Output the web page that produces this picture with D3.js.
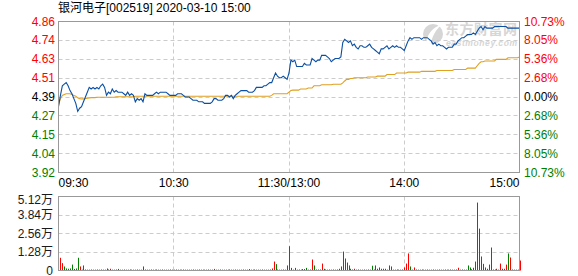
<!DOCTYPE html>
<html lang="zh-CN">
<head>
<meta charset="UTF-8">
<title>银河电子 分时图</title>
<script src="https://cdn.jsdelivr.net/npm/d3@7"></script>
<style>
  html, body { margin: 0; padding: 0; background: #fff; }
  svg { display: block; }
  text { font-family: "Liberation Sans", Arial, "Noto Sans CJK SC", sans-serif; font-size: 12px; }
</style>
<script>
var title = '银河电子[002519] 2020-03-10 15:00';
var prevClose = 4.39;

var priceLabels = ['4.86', '4.74', '4.63', '4.51', '4.39', '4.27', '4.15', '4.04', '3.92'];
var pctTicks = [10.73, 8.05, 5.36, 2.68, 0, -2.68, -5.36, -8.05, -10.73];
var pctLabels = ['10.73%', '8.05%', '5.36%', '2.68%', '0.00%', '2.68%', '5.36%', '8.05%', '10.73%'];

var timeLabels = ['09:30', '10:30', '11:30/13:00', '14:00', '15:00'];
var timeIdx = [0, 60, 120, 180, 240];

var volTicks = [51200, 38400, 25600, 12800, 0];
var volLabels = ['5.12万', '3.84万', '2.56万', '1.28万', '0'];

// one value per minute, 09:30 .. 11:30 then 13:01 .. 15:00
var price = [
  4.33, 4.40, 4.46, 4.47, 4.48, 4.46, 4.43, 4.41, 4.38, 4.35,
  4.30, 4.32, 4.33, 4.36, 4.39, 4.42, 4.45, 4.44, 4.45, 4.44,
  4.45, 4.44, 4.46, 4.47, 4.45, 4.40, 4.42, 4.41, 4.44, 4.42,
  4.43, 4.42, 4.42, 4.42, 4.41, 4.40, 4.42, 4.40, 4.41, 4.40,
  4.36, 4.38, 4.37, 4.38, 4.36, 4.41, 4.40, 4.40, 4.40, 4.40,
  4.41, 4.42, 4.41, 4.42, 4.42, 4.42, 4.42, 4.41, 4.40, 4.40,
  4.40, 4.40, 4.41, 4.41, 4.41, 4.40, 4.39, 4.39, 4.39, 4.38,
  4.37, 4.37, 4.37, 4.36, 4.36, 4.36, 4.35, 4.35, 4.35, 4.35,
  4.36, 4.38, 4.38, 4.37, 4.37, 4.37, 4.38, 4.40, 4.40, 4.39,
  4.40, 4.38, 4.40, 4.41, 4.42, 4.43, 4.43, 4.43, 4.43, 4.42,
  4.42, 4.42, 4.43, 4.45, 4.45, 4.45, 4.45, 4.46, 4.46, 4.47,
  4.48, 4.48, 4.51, 4.54, 4.52, 4.51, 4.51, 4.52, 4.51, 4.50,
  4.54, 4.62, 4.61, 4.62, 4.58, 4.58, 4.58, 4.58, 4.60, 4.59,
  4.59, 4.59, 4.63, 4.62, 4.61, 4.62, 4.62, 4.65, 4.65, 4.65,
  4.64, 4.63, 4.61, 4.62, 4.63, 4.63, 4.63, 4.64, 4.73, 4.75,
  4.74, 4.73, 4.74, 4.71, 4.72, 4.70, 4.69, 4.71, 4.71, 4.70,
  4.70, 4.71, 4.72, 4.70, 4.69, 4.68, 4.67, 4.66, 4.69, 4.69,
  4.70, 4.71, 4.69, 4.70, 4.71, 4.70, 4.71, 4.70, 4.70, 4.69,
  4.68, 4.71, 4.74, 4.76, 4.75, 4.76, 4.76, 4.76, 4.76, 4.75,
  4.76, 4.76, 4.76, 4.75, 4.74, 4.72, 4.73, 4.71, 4.72, 4.71,
  4.71, 4.70, 4.69, 4.70, 4.70, 4.70, 4.72, 4.72, 4.74, 4.75,
  4.76, 4.76, 4.77, 4.78, 4.78, 4.78, 4.79, 4.78, 4.80, 4.82,
  4.83, 4.81, 4.83, 4.82, 4.82, 4.82, 4.82, 4.83, 4.83, 4.83,
  4.83, 4.83, 4.83, 4.83, 4.82, 4.82, 4.82, 4.82, 4.82, 4.82,
  4.82
];

var avgPrice = [
  4.34, 4.38, 4.40, 4.405, 4.41, 4.41, 4.41, 4.405, 4.40, 4.395,
  4.385, 4.38, 4.378, 4.378, 4.38, 4.382, 4.384, 4.386, 4.386, 4.386,
  4.388, 4.388, 4.388, 4.388, 4.388, 4.388, 4.388, 4.388, 4.388, 4.388,
  4.392, 4.392, 4.392, 4.392, 4.392, 4.392, 4.392, 4.392, 4.392, 4.392,
  4.395, 4.395, 4.395, 4.395, 4.395, 4.395, 4.395, 4.395, 4.395, 4.395,
  4.395, 4.395, 4.395, 4.395, 4.395, 4.395, 4.395, 4.395, 4.395, 4.395,
  4.395, 4.395, 4.395, 4.395, 4.395, 4.395, 4.395, 4.395, 4.395, 4.395,
  4.395, 4.395, 4.395, 4.395, 4.395, 4.395, 4.395, 4.395, 4.395, 4.395,
  4.395, 4.395, 4.395, 4.395, 4.395, 4.395, 4.395, 4.395, 4.395, 4.395,
  4.395, 4.395, 4.395, 4.395, 4.395, 4.395, 4.395, 4.395, 4.395, 4.395,
  4.395, 4.395, 4.395, 4.395, 4.395, 4.395, 4.395, 4.395, 4.395, 4.395,
  4.395, 4.40, 4.41, 4.41, 4.41, 4.41, 4.41, 4.41, 4.41, 4.41,
  4.42, 4.43, 4.433, 4.433, 4.433, 4.433, 4.44, 4.44, 4.44, 4.44,
  4.446, 4.446, 4.446, 4.46, 4.46, 4.46, 4.46, 4.466, 4.466, 4.466,
  4.466, 4.466, 4.466, 4.47, 4.47, 4.47, 4.47, 4.47, 4.478, 4.49,
  4.50, 4.50, 4.505, 4.505, 4.51, 4.51, 4.51, 4.51, 4.51, 4.51,
  4.51, 4.515, 4.515, 4.515, 4.515, 4.515, 4.52, 4.52, 4.52, 4.52,
  4.52, 4.53, 4.53, 4.53, 4.53, 4.53, 4.54, 4.54, 4.54, 4.54,
  4.54, 4.54, 4.545, 4.545, 4.545, 4.545, 4.545, 4.545, 4.545, 4.55,
  4.55, 4.55, 4.55, 4.55, 4.55, 4.55, 4.55, 4.555, 4.555, 4.555,
  4.555, 4.555, 4.555, 4.555, 4.555, 4.555, 4.562, 4.562, 4.562, 4.562,
  4.562, 4.562, 4.562, 4.57, 4.57, 4.57, 4.57, 4.57, 4.585, 4.60,
  4.61, 4.61, 4.615, 4.615, 4.615, 4.615, 4.615, 4.615, 4.625, 4.625,
  4.625, 4.625, 4.625, 4.625, 4.635, 4.635, 4.635, 4.635, 4.635, 4.635,
  4.64
];

var volume = [
  0, 8800, 5100, 2800, 1400, 1200, 1400, 4100, 1100, 1400,
  8800, 2800, 600, 3500, 700, 600, 600, 700, 600, 600,
  700, 600, 700, 600, 600, 1400, 700, 1200, 600, 600,
  700, 1100, 600, 600, 700, 600, 600, 700, 600, 600,
  600, 700, 600, 600, 2800, 700, 600, 600, 700, 600,
  600, 700, 600, 600, 700, 600, 600, 600, 700, 600,
  600, 700, 600, 600, 600, 700, 600, 600, 600, 600,
  700, 600, 600, 700, 600, 600, 600, 600, 700, 600,
  600, 1100, 600, 600, 700, 600, 600, 600, 600, 700,
  600, 600, 700, 600, 600, 600, 700, 600, 600, 1000,
  600, 600, 700, 600, 600, 600, 700, 600, 600, 600,
  700, 1400, 6200, 4400, 700, 600, 600, 700, 600, 3500,
  16800, 1800, 600, 1800, 600, 700, 600, 1000, 1000, 1800,
  600, 700, 7600, 3500, 700, 700, 700, 4800, 1200, 700,
  600, 700, 600, 700, 600, 700, 1200, 2800, 13100, 8300,
  5500, 3500, 1200, 700, 1200, 600, 700, 600, 600, 700,
  600, 700, 600, 3300, 700, 3500, 1200, 2100, 1200, 1200,
  1200, 600, 3500, 2800, 600, 600, 700, 600, 600, 700,
  2100, 4800, 11800, 2800, 600, 2100, 700, 600, 600, 700,
  600, 600, 700, 600, 600, 700, 600, 600, 700, 600,
  600, 700, 600, 600, 700, 600, 600, 700, 1900, 600,
  700, 600, 600, 3500, 2100, 900, 1900, 6200, 47000, 29000,
  9700, 4600, 2100, 1200, 4100, 15900, 700, 700, 1200, 600,
  4800, 1200, 1200, 4100, 11800, 9000, 700, 600, 600, 600,
  6900
];

// r = up minute (red), g = down minute (green)
var volDir =
  'rrrggggggg' + 'grrrgrrgrg' + 'rgrrgggrgg' + 'rggrgrrggr' + 'ggrgrrgrrg' +
  'rrgrgrggrg' + 'rrgrgggrrg' + 'ggrggrgrrr' + 'rrrgrrrgrg' + 'grrrrgrrgg' +
  'grrrrrrgrr' + 'rrrgrgrggr' + 'rgrgrrgrgg' + 'rgrgrrrrgg' + 'rggrgrrrrg' +
  'rrggrrggrg' + 'rgrgggrrrr' + 'rgrrgrgrgg' + 'rrrgrrrgrr' + 'rgrrgrgrgr' +
  'grggrrrrrr' + 'rrrggrrrrg' + 'grgrrrrrrr' + 'rrrrgrgrrg' + 'r';

window.addEventListener('load', function () {
  var W = 578, H = 276;
  var left = 58.5, right = 519.5;
  var top = 21.5, bottom = 172.5;
  var vTop = 196.5, vBottom = 270.5;

  var red = '#ff0000', green = '#008000';
  var gridColor = '#cccccc', borderColor = '#999999';

  var svg = d3.select('body').append('svg')
    .attr('width', W)
    .attr('height', H);

  var x = d3.scaleLinear().domain([0, 240]).range([left, right]);
  var yPct = d3.scaleLinear().domain([-10.73, 10.73]).range([bottom, top]);
  var y = d3.scaleLinear()
    .domain([prevClose * (1 - 0.1073), prevClose * (1 + 0.1073)])
    .range([bottom, top]);
  var yVol = d3.scaleLinear().domain([0, 51200]).range([vBottom, vTop]);

  var crisp = function (v) { return Math.round(v - 0.5) + 0.5; };

  // title
  svg.append('text')
    .attr('x', 58)
    .attr('y', 12)
    .attr('fill', '#000')
    .text(title);

  // watermark
  var wm = svg.append('g').attr('fill', '#d6d6d6');
  wm.append('circle').attr('cx', 433).attr('cy', 34).attr('r', 10);
  wm.append('path')
    .attr('d', 'M426,42 C428,33 433,27 441,25 C436,30 432,36 431,44 Z')
    .attr('fill', '#fff');
  wm.append('text')
    .attr('x', 445).attr('y', 34)
    .style('font-size', '14px')
    .style('font-weight', 'bold')
    .style('font-family', '"Noto Sans CJK SC", sans-serif')
    .attr('textLength', 72)
    .text('东方财富网');
  wm.append('text')
    .attr('x', 446).attr('y', 46)
    .style('font-size', '8.5px')
    .style('font-weight', 'bold')
    .style('font-style', 'italic')
    .attr('textLength', 71)
    .text('eastmoney.com');

  // grid: main chart
  var grid = svg.append('g')
    .attr('stroke', gridColor)
    .attr('stroke-dasharray', '4,3')
    .attr('fill', 'none');

  grid.selectAll('line.h')
    .data(pctTicks.slice(1, -1))
    .enter().append('line')
    .attr('class', 'h')
    .attr('x1', left).attr('x2', right)
    .attr('y1', function (d) { return crisp(yPct(d)); })
    .attr('y2', function (d) { return crisp(yPct(d)); });

  grid.selectAll('line.v')
    .data(timeIdx.slice(1, -1))
    .enter().append('line')
    .attr('class', 'v')
    .attr('y1', top).attr('y2', bottom)
    .attr('x1', function (d) { return crisp(x(d)); })
    .attr('x2', function (d) { return crisp(x(d)); });

  // grid: volume chart
  grid.selectAll('line.vh')
    .data(volTicks.slice(1, -1))
    .enter().append('line')
    .attr('class', 'vh')
    .attr('x1', left).attr('x2', right)
    .attr('y1', function (d) { return crisp(yVol(d)); })
    .attr('y2', function (d) { return crisp(yVol(d)); });

  grid.selectAll('line.vv')
    .data(timeIdx.slice(1, -1))
    .enter().append('line')
    .attr('class', 'vv')
    .attr('y1', vTop).attr('y2', vBottom)
    .attr('x1', function (d) { return crisp(x(d)); })
    .attr('x2', function (d) { return crisp(x(d)); });

  // volume bars
  svg.append('g').selectAll('rect')
    .data(volume)
    .enter().append('rect')
    .attr('x', function (d, i) { return Math.round(x(i)); })
    .attr('width', 1)
    .attr('y', function (d) { return yVol(d); })
    .attr('height', function (d) { return vBottom - yVol(d); })
    .attr('fill', function (d, i) { return volDir[i] === 'r' ? red : green; });

  // price + average lines
  var line = d3.line()
    .x(function (d, i) { return x(i); })
    .y(function (d) { return y(d); });

  svg.append('path')
    .datum(avgPrice)
    .attr('d', line)
    .attr('fill', 'none')
    .attr('stroke', '#e0a020')
    .attr('stroke-width', 1.1);

  svg.append('path')
    .datum(price)
    .attr('d', line)
    .attr('fill', 'none')
    .attr('stroke', '#0a4fa3')
    .attr('stroke-width', 1.1);

  // borders
  svg.append('rect')
    .attr('x', left).attr('y', top)
    .attr('width', right - left).attr('height', bottom - top)
    .attr('fill', 'none').attr('stroke', borderColor);
  svg.append('rect')
    .attr('x', left).attr('y', vTop)
    .attr('width', right - left).attr('height', vBottom - vTop)
    .attr('fill', 'none').attr('stroke', borderColor);

  var tickColor = function (d) { return d > 0 ? red : (d < 0 ? green : '#000'); };

  // left price labels
  svg.append('g').selectAll('text')
    .data(pctTicks)
    .enter().append('text')
    .attr('x', 55)
    .attr('y', function (d) { return yPct(d) + 4; })
    .attr('text-anchor', 'end')
    .attr('fill', tickColor)
    .text(function (d, i) { return priceLabels[i]; });

  // right percent labels
  svg.append('g').selectAll('text')
    .data(pctTicks)
    .enter().append('text')
    .attr('x', 524)
    .attr('y', function (d) { return yPct(d) + 4; })
    .attr('fill', tickColor)
    .text(function (d, i) { return pctLabels[i]; });

  // time labels
  svg.append('g').selectAll('text')
    .data(timeIdx)
    .enter().append('text')
    .attr('x', function (d) { return x(d); })
    .attr('y', 187)
    .attr('text-anchor', function (d, i) {
      return i === 0 ? 'start' : (i === timeIdx.length - 1 ? 'end' : 'middle');
    })
    .attr('fill', '#000')
    .text(function (d, i) { return timeLabels[i]; });

  // volume labels
  svg.append('g').selectAll('text')
    .data(volTicks)
    .enter().append('text')
    .attr('x', 53)
    .attr('y', function (d, i) { return (i === 0 ? yVol(d) + 3 : yVol(d)) + 4; })
    .attr('text-anchor', 'end')
    .attr('fill', '#1a1a1a')
    .text(function (d, i) { return volLabels[i]; });
}, false);
</script>
</head>
<body>
</body>
</html>
